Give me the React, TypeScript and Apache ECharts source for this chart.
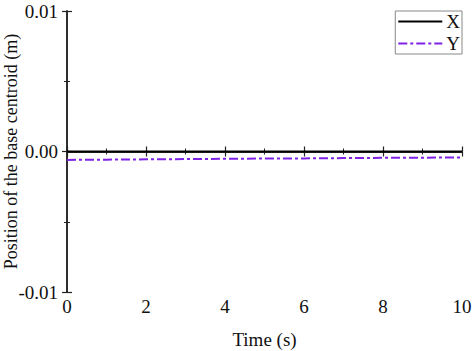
import React, { useEffect, useRef } from "react";
import * as echarts from "echarts";

const timeValues = [0, 1, 2, 3, 4, 5, 6, 7, 8, 9, 10];
const xPosition = [0, 0, 0, 0, 0, 0, 0, 0, 0, 0, 0];
const yPosition = [-0.0006, -0.00058, -0.00056, -0.00054, -0.00052, -0.0005, -0.00049, -0.00047, -0.00045, -0.00044, -0.00042];
const seriesNames = ["X", "Y"];

const FONT = "Liberation Serif";

export default function App() {
  const ref = useRef<HTMLDivElement>(null);
  useEffect(() => {
    if (!ref.current) return;
    document.body.style.margin = "0";
    const chart = echarts.init(ref.current, undefined, { renderer: "svg" });
    const axisLine = { show: true, lineStyle: { color: "#222", width: 1.5 } };
    const tickCommon = { show: true, inside: true, length: 5, lineStyle: { color: "#222", width: 1.2 } };
    const minorTick = { show: true, splitNumber: 2, length: 3, lineStyle: { color: "#222", width: 1 } };
    chart.setOption({
      animation: false,
      backgroundColor: "#fff",
      grid: { left: 67, right: 12, top: 11, bottom: 59, containLabel: false, outerBoundsMode: "none" },
      legend: {
        orient: "vertical",
        right: 12,
        top: 11,
        data: seriesNames,
        padding: [1, 2, 1, 2],
        itemWidth: 44,
        itemHeight: 14,
        itemGap: 3,
        borderColor: "#888",
        borderWidth: 1,
        borderRadius: 0,
        backgroundColor: "#fff",
        itemStyle: { color: "transparent", borderWidth: 0, opacity: 0 },
        textStyle: { fontFamily: FONT, fontSize: 19, lineHeight: 19, color: "#111", padding: [0, 0, 0, -1] },
      },
      xAxis: [
        {
          type: "value",
          min: 0,
          max: 10,
          interval: 2,
          name: "Time (s)",
          nameLocation: "middle",
          nameGap: 38,
          nameMoveOverlap: false,
          nameTextStyle: { fontFamily: FONT, fontSize: 19, color: "#111" },
          axisLine,
          axisTick: tickCommon,
          minorTick,
          splitLine: { show: false },
          axisLabel: { fontFamily: FONT, fontSize: 19, color: "#111", margin: 5 },
        },
        {
          type: "value",
          position: "top",
          min: 0,
          max: 10,
          interval: 2,
          axisLine,
          axisTick: tickCommon,
          minorTick,
          splitLine: { show: false },
          axisLabel: { show: false },
        },
      ],
      yAxis: [
        {
          type: "value",
          min: -0.01,
          max: 0.01,
          interval: 0.01,
          name: "Position of the base centroid (m)",
          nameLocation: "middle",
          nameGap: 47,
          nameMoveOverlap: false,
          nameTextStyle: { fontFamily: FONT, fontSize: 18, color: "#111" },
          axisLine,
          axisTick: tickCommon,
          minorTick,
          splitLine: { show: false },
          axisLabel: {
            fontFamily: FONT,
            fontSize: 19,
            color: "#111",
            margin: 9,
            formatter: (v: number) => v.toFixed(2),
          },
        },
        {
          type: "value",
          position: "right",
          min: -0.01,
          max: 0.01,
          interval: 0.01,
          axisLine,
          axisTick: tickCommon,
          minorTick,
          splitLine: { show: false },
          axisLabel: { show: false },
        },
      ],
      series: [
        {
          name: seriesNames[0],
          type: "line",
          data: timeValues.map((t, i) => [t, xPosition[i]]),
          showSymbol: false,
          symbol: "none",
          lineStyle: { color: "#000", width: 2 },
          itemStyle: { color: "#000" },
        },
        {
          name: seriesNames[1],
          type: "line",
          data: timeValues.map((t, i) => [t, yPosition[i]]),
          showSymbol: false,
          symbol: "none",
          lineStyle: { color: "#7f22e6", width: 2, type: [9, 3, 3, 3] },
          itemStyle: { color: "#7f22e6" },
        },
      ],
    });
    return () => chart.dispose();
  }, []);
  return <div ref={ref} style={{ width: 474, height: 351 }} />;
}
